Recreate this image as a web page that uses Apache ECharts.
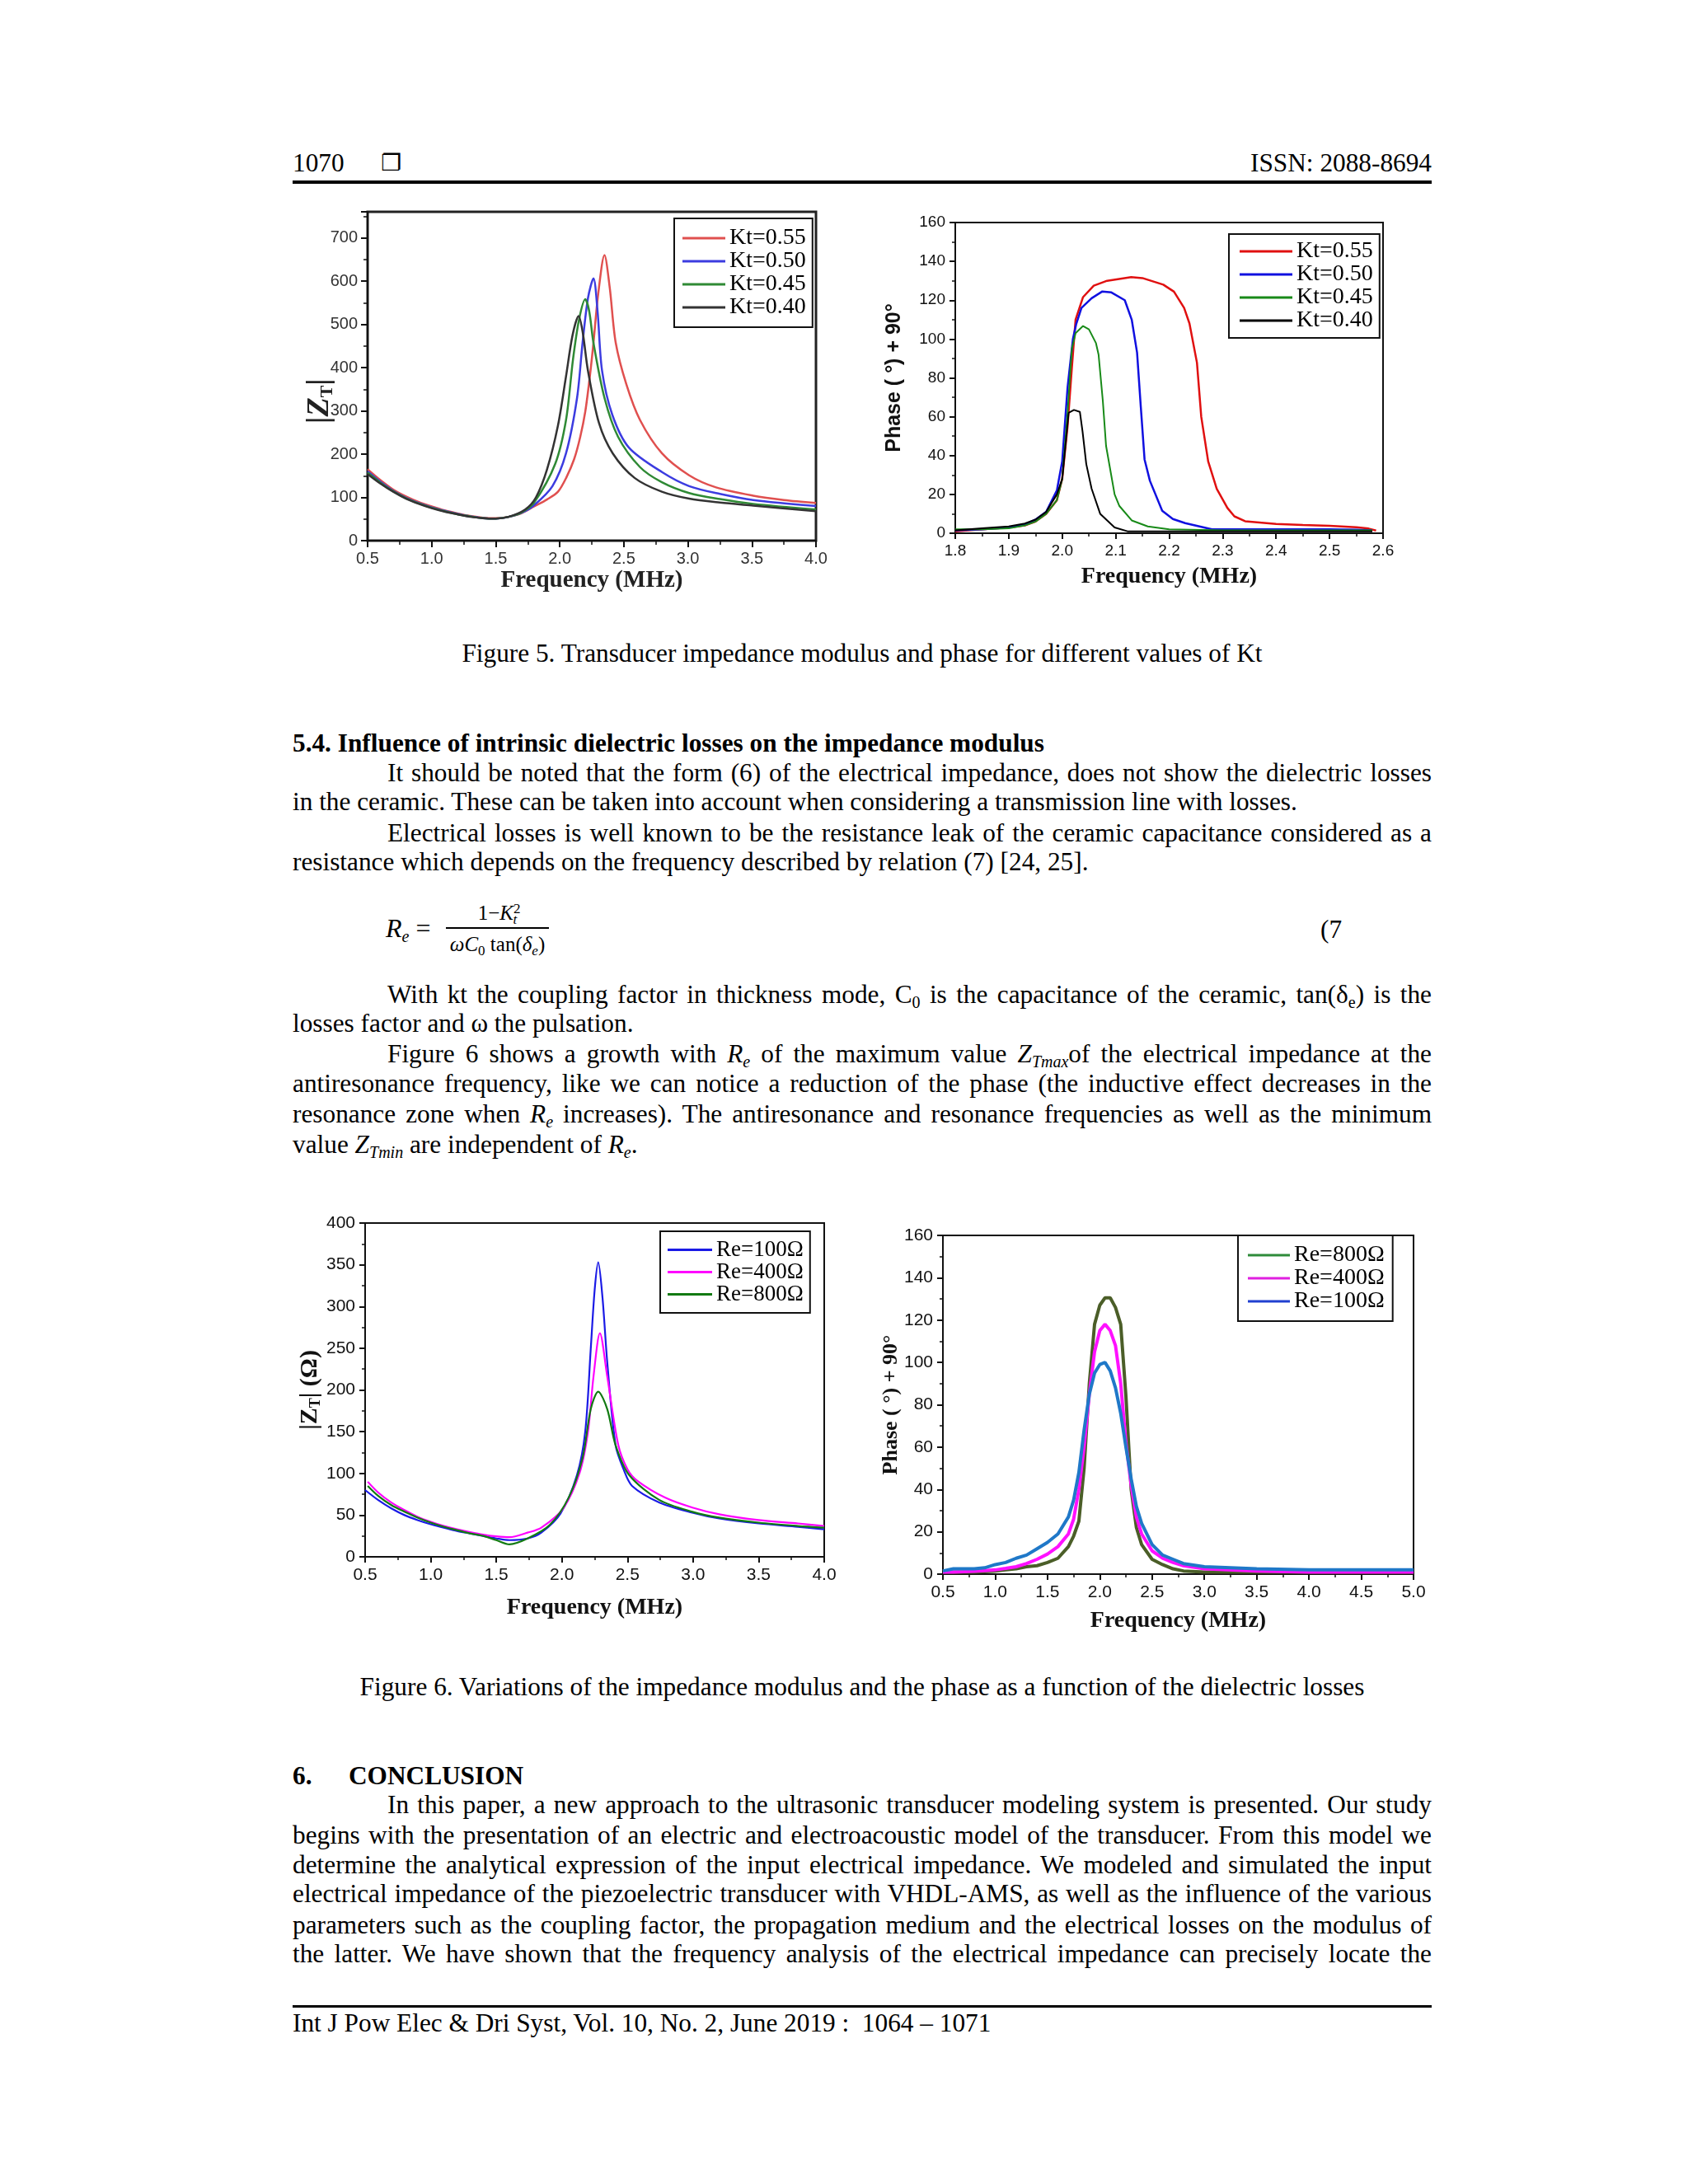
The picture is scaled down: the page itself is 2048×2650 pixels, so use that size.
<!DOCTYPE html>
<html><head><meta charset="utf-8">
<script src="https://cdn.jsdelivr.net/npm/echarts@6/dist/echarts.min.js"></script>
<style>
body{margin:0;background:#fff;width:2048px;height:2650px;position:relative;font-family:"Liberation Serif","Times New Roman",serif;color:#000;overflow:hidden;}
.t{position:absolute;font-size:31.3px;line-height:36px;white-space:nowrap;}
.j{position:absolute;left:355px;width:1382px;font-size:31.3px;line-height:36px;text-align:justify;text-align-last:justify;white-space:nowrap;}
.ind{left:470px;width:1267px;}
sub{font-size:20px;line-height:0;vertical-align:-0.3em;}
sup{font-size:20px;line-height:0;vertical-align:0.5em;}
.chart{position:absolute;}
.rule{position:absolute;left:355px;width:1382px;background:#000;}
</style></head><body>

<div class="t" style="left:355px;top:180px">1070</div>
<div class="t" style="left:462px;top:180px;font-family:'DejaVu Sans';font-size:28px;font-weight:bold">❐</div>
<div class="t" style="right:311px;top:180px">ISSN: 2088-8694</div>
<div class="rule" style="top:219px;height:4px"></div>

<div id="c1" class="chart" style="left:340px;top:240px;width:670px;height:500px"></div>
<div id="c2" class="chart" style="left:1040px;top:240px;width:690px;height:490px"></div>

<div class="t" style="left:355px;width:1382px;text-align:center;top:775px">Figure 5. Transducer impedance modulus and phase for different values of Kt</div>

<div class="t" style="left:355px;top:884px;font-weight:bold">5.4. Influence of intrinsic dielectric losses on the impedance modulus</div>
<div class="j ind" style="top:920px">It should be noted that the form (6) of the electrical impedance, does not show the dielectric losses</div>
<div class="t" style="left:355px;top:955px">in the ceramic. These can be taken into account when considering a transmission line with losses.</div>
<div class="j ind" style="top:993px">Electrical losses is well known to be the resistance leak of the ceramic capacitance considered as a</div>
<div class="t" style="left:355px;top:1028px">resistance which depends on the frequency described by relation (7) [24, 25].</div>

<div class="t" style="left:468px;top:1108px;font-size:32px"><i>R</i><sub style="font-style:italic">e</sub>&nbsp;=</div>
<div class="t" style="left:541px;width:125px;text-align:center;top:1093px;font-size:25px;line-height:30px">1−<i>K</i><sup style="font-size:17px">2</sup><sub style="font-size:17px;margin-left:-9px;font-style:italic">t</sub></div>
<div style="position:absolute;left:541px;top:1125px;width:125px;height:2px;background:#000"></div>
<div class="t" style="left:536px;width:135px;text-align:center;top:1131px;font-size:25px;line-height:30px"><i>ωC</i><sub style="font-size:17px">0</sub> tan(<i>δ</i><sub style="font-size:17px;font-style:italic">e</sub>)</div>
<div class="t" style="left:1602px;top:1110px">(7</div>

<div class="j ind" style="top:1189px">With kt the coupling factor in thickness mode, C<sub>0</sub> is the capacitance of the ceramic, tan(δ<sub>e</sub>) is the</div>
<div class="t" style="left:355px;top:1224px">losses factor and ω the pulsation.</div>
<div class="j ind" style="top:1261px">Figure 6 shows a growth with <i>R<sub>e</sub></i> of the maximum value <i>Z<sub>Tmax</sub></i>of the electrical impedance at the</div>
<div class="j" style="top:1297px">antiresonance frequency, like we can notice a reduction of the phase (the inductive effect decreases in the</div>
<div class="j" style="top:1334px">resonance zone when <i>R<sub>e</sub></i> increases). The antiresonance and resonance frequencies as well as the minimum</div>
<div class="t" style="left:355px;top:1371px">value <i>Z<sub>Tmin</sub></i> are independent of <i>R<sub>e</sub></i>.</div>

<div id="c3" class="chart" style="left:340px;top:1450px;width:690px;height:540px"></div>
<div id="c4" class="chart" style="left:1030px;top:1460px;width:710px;height:540px"></div>

<div class="t" style="left:355px;width:1382px;text-align:center;top:2029px">Figure 6. Variations of the impedance modulus and the phase as a function of the dielectric losses</div>

<div class="t" style="left:355px;top:2137px;font-weight:bold">6.</div>
<div class="t" style="left:423px;top:2137px;font-weight:bold">CONCLUSION</div>
<div class="j ind" style="top:2172px">In this paper, a new approach to the ultrasonic transducer modeling system is presented. Our study</div>
<div class="j" style="top:2209px">begins with the presentation of an electric and electroacoustic model of the transducer. From this model we</div>
<div class="j" style="top:2245px">determine the analytical expression of the input electrical impedance. We modeled and simulated the input</div>
<div class="j" style="top:2280px">electrical impedance of the piezoelectric transducer with VHDL-AMS, as well as the influence of the various</div>
<div class="j" style="top:2318px">parameters such as the coupling factor, the propagation medium and the electrical losses on the modulus of</div>
<div class="j" style="top:2353px">the latter. We have shown that the frequency analysis of the electrical impedance can precisely locate the</div>

<div class="rule" style="top:2433px;height:3px"></div>
<div class="t" style="left:355px;top:2437px">Int J Pow Elec &amp; Dri Syst, Vol. 10, No. 2, June 2019 :&nbsp; 1064 – 1071</div>

<script>
// ---------- Figure 5 (left): |Z_T| vs frequency for Kt ----------
const kt55_f = [0.5,0.6,0.7,0.8,0.9,1.0,1.1,1.2,1.3,1.4,1.5,1.6,1.7,1.8,1.9,1.986,2.05,2.113,2.16,2.199,2.235,2.263,2.3,2.349,2.39,2.437,2.52,2.626,2.797,3.01,3.22,3.51,3.75,4.0];
const kt55_z = [165,140,118,102,89,79,70,63,57,53,52,55,63,79,95,113,145,189,240,298,380,457,570,660,585,457,361,279,202,151,123,104,94,87];
const kt50_f = [0.5,0.6,0.7,0.8,0.9,1.0,1.1,1.2,1.3,1.4,1.5,1.6,1.7,1.8,1.943,2.049,2.135,2.178,2.22,2.263,2.295,2.33,2.41,2.54,2.8,3.01,3.25,3.51,4.0];
const kt50_z = [160,136,115,99,87,77,69,62,56,52,51,55,64,82,126,202,330,457,560,606,530,393,291,215,158,126,108,94,80];
const kt45_f = [0.5,0.6,0.7,0.8,0.9,1.0,1.1,1.2,1.3,1.4,1.5,1.6,1.7,1.8,1.964,2.049,2.103,2.15,2.199,2.23,2.263,2.349,2.455,2.626,2.797,3.01,3.25,3.51,4.0];
const kt45_z = [157,134,114,98,86,76,68,61,56,52,51,55,65,88,177,279,418,510,558,530,457,330,240,170,135,110,96,85,72];
const kt40_f = [0.5,0.6,0.7,0.8,0.9,1.0,1.1,1.2,1.3,1.4,1.5,1.6,1.73,1.814,1.9,1.986,2.049,2.1,2.147,2.18,2.22,2.306,2.413,2.584,2.797,3.01,3.25,3.51,4.0];
const kt40_z = [154,132,113,97,85,75,67,61,55,52,51,55,72,100,164,266,380,475,519,480,393,272,202,145,113,97,88,81,68];

// ---------- Figure 5 (right): phase vs frequency for Kt ----------
const ph55_f = [1.8,1.85,1.9,1.93,1.95,1.97,1.99,2.0,2.01,2.018,2.025,2.039,2.059,2.084,2.129,2.15,2.189,2.209,2.228,2.238,2.252,2.26,2.273,2.289,2.309,2.322,2.342,2.4,2.45,2.5,2.55,2.573,2.587];
const ph55_p = [1,2,3,4,6,10,17,28,55,85,110,121.6,127.5,130,131.9,131.4,128,124.4,116,108,87.8,60,37,22.9,13,8.7,6.2,4.8,4.2,3.8,3.1,2.4,1.4];
const ph50_f = [1.8,1.85,1.9,1.93,1.95,1.97,1.99,2.0,2.01,2.02,2.026,2.036,2.055,2.075,2.092,2.117,2.13,2.14,2.147,2.154,2.164,2.187,2.207,2.23,2.28,2.35,2.45,2.5,2.55,2.58];
const ph50_p = [1.5,2,3,4.5,7,11,22,37,75,100,107.5,116,121,124.5,124,120,110,93,65,38,27,11.6,7.3,5.2,2,2,2,2,1.8,1.5];
const ph45_f = [1.8,1.85,1.9,1.93,1.95,1.97,1.99,2.0,2.01,2.018,2.025,2.039,2.05,2.063,2.068,2.076,2.082,2.098,2.107,2.13,2.16,2.2,2.3,2.4,2.5,2.58];
const ph45_p = [2,2,2.5,4,6,10,17,28,62,95,103,106.7,105,98,92,68,45,20,14,6.6,3.5,2,1.5,1.5,1.5,1.5];
const ph40_f = [1.8,1.85,1.9,1.93,1.95,1.97,1.99,2.0,2.006,2.012,2.022,2.033,2.038,2.045,2.055,2.071,2.098,2.122,2.2,2.3,2.4,2.5,2.58];
const ph40_p = [1.5,2.5,3.5,5,7,11,20,28,45,62,63.5,62.5,52.5,35.6,22.9,10,3,1,1,1,1,1,1];

// ---------- Figure 6 (left): |Z_T| vs frequency for Re ----------
const re100_f = [0.5,0.6,0.7,0.8,0.9,1.0,1.1,1.2,1.3,1.4,1.5,1.6,1.738,1.843,1.99,2.115,2.178,2.22,2.25,2.277,2.31,2.346,2.409,2.47,2.535,2.744,2.995,3.2,3.5,3.8,4.0];
const re100_z = [80,68,58,50,44,39,35,31,28,25,22,20,22,29,52,98,150,249,320,353,310,233,134,105,85,65,53,46,40,36,33];
const re400_f = [0.52,0.6,0.7,0.8,0.9,1.0,1.1,1.2,1.3,1.4,1.5,1.6,1.738,1.843,2.01,2.136,2.199,2.241,2.29,2.346,2.43,2.5,2.576,2.786,2.995,3.2,3.5,3.8,4.0];
const re400_z = [90,77,65,56,48,42,37,33,29.5,26.5,24.5,23.5,29,35,58,101,150,216,268,216,134,105,91,71,59,51,44,40,37];
const re800_f = [0.52,0.6,0.7,0.8,0.9,1.0,1.1,1.2,1.3,1.4,1.5,1.6,1.738,1.906,2.052,2.157,2.22,2.277,2.346,2.409,2.513,2.744,2.995,3.2,3.5,3.8,4.0];
const re800_z = [85,73,62,54,47,41,36,32,28,25,20,15,22,38,71,118,177,198,177,134,98,68,54,47,41,37,35];

// ---------- Figure 6 (right): phase vs frequency for Re ----------
const phRe_f = [0.5,0.6,0.7,0.8,0.9,1.0,1.1,1.2,1.3,1.4,1.5,1.6,1.7,1.75,1.8,1.85,1.9,1.95,2.0,2.05,2.1,2.15,2.2,2.25,2.3,2.35,2.4,2.5,2.6,2.7,2.8,3.0,3.5,4.0,4.5,5.0];
const phRe800 = [1,1,1,1,1.2,1.5,2,2.5,3.5,4,5.5,7.5,13,18,25,50,90,118,127,130.5,130.5,126,118,84,40,22,14,7,4.5,2.5,1.5,1,1,1,1,1];
const phRe400 = [1,1,1.2,1.4,1.7,2,2.7,3.5,5,7,9.5,13,19,26,40,60,85,105,115,118,115,108,90,62,42,27,19,11,7.5,5.5,4,2.5,1.5,1,1,1];
const phRe100 = [1.5,2.5,2.5,2.5,3,4.5,5.5,7.5,9,12,15,19,27,35,48,68,85,95,99,100,96,88,76,60,45,32,24,14,9,7,5,3.5,2.5,2,2,2];

const SANS = "'Liberation Sans', Arial, sans-serif";
const NARROW = "'Liberation Sans Narrow', 'Liberation Sans', Arial, sans-serif";
const SERIF = "'Liberation Serif', 'Times New Roman', serif";

function pairs(f, v){ return f.map((x,i)=>[x, v[i]]); }

function axis(o){
  return {
    type:'value', min:o.min, max:o.max, interval:o.interval,
    name:o.name, nameLocation:'middle', nameGap:o.nameGap, nameRotate:o.nameRotate,
    nameMoveOverlap:false,
    nameTextStyle:o.nameStyle,
    axisLine:{show:true, onZero:false, lineStyle:{color:'#111', width:2}},
    axisTick:{show:true, inside:false, length:o.tickLen||8, lineStyle:{color:'#111', width:2}},
    minorTick:{show:true, splitNumber:o.minor||2, length:(o.tickLen||8)-3, lineStyle:{color:'#111', width:1.5}},
    splitLine:{show:false},
    axisLabel:{formatter:o.fmt, fontFamily:o.labFont||SANS, fontSize:o.labSize||20, color:o.labColor||'#111', margin:o.labMargin||12}
  };
}

function line(name, data, color, width, smooth){
  return {type:'line', name:name, data:data, symbol:'none', showSymbol:false, smooth:smooth||false,
          lineStyle:{color:color, width:width}, itemStyle:{color:color}};
}

function legend(o){
  return {show:true, orient:'vertical', left:o.left, top:o.top, padding:o.padding, icon:'rect',
          itemWidth:o.itemWidth, itemHeight:o.itemHeight||3, itemGap:0, borderColor:'#111', borderWidth:2,
          backgroundColor:'#fff', data:o.data, selectedMode:false,
          textStyle:{fontFamily:SERIF, fontSize:o.fontSize, color:'#000', lineHeight:o.lineHeight}};
}

function mk(id, opt){
  const c = echarts.init(document.getElementById(id));
  opt.animation = false;
  c.setOption(opt);
}

// Chart 1
mk('c1', {
  grid:{left:106, top:17, width:544, height:399, show:true, borderColor:'#222', borderWidth:3, backgroundColor:'transparent'},
  legend: legend({left:478, top:25, padding:[10,8,10,10], itemWidth:52, fontSize:28, lineHeight:24,
                  data:['Kt=0.55','Kt=0.50','Kt=0.45','Kt=0.40']}),
  xAxis: axis({min:0.5, max:4.0, interval:0.5, fmt:v=>v.toFixed(1), labFont:NARROW, labSize:20, labColor:'#333',
               name:'Frequency (MHz)', nameGap:34,
               nameStyle:{fontFamily:SERIF, fontWeight:'bold', fontSize:29, color:'#222'}}),
  yAxis: axis({min:0, max:760, interval:100, fmt:v=>(v%100===0?String(v):''), labFont:NARROW, labSize:20, labColor:'#333',
               name:'{a||Z}{b|T}{a||}', nameGap:38, nameRotate:90,
               nameStyle:{padding:[0,60,0,0],
                          rich:{a:{fontFamily:SERIF, fontWeight:'bold', fontStyle:'italic', fontSize:38, color:'#222'},
                                b:{fontFamily:SERIF, fontWeight:'bold', fontSize:22, color:'#222', padding:[18,0,0,0]}}}}),
  series:[
    line('Kt=0.55', pairs(kt55_f, kt55_z), '#e0504f', 2.5, 0.3),
    line('Kt=0.50', pairs(kt50_f, kt50_z), '#3c3ce0', 2.5, 0.3),
    line('Kt=0.45', pairs(kt45_f, kt45_z), '#2f8a35', 2.5, 0.3),
    line('Kt=0.40', pairs(kt40_f, kt40_z), '#333333', 2.5, 0.3)
  ]
});

// Chart 2
mk('c2', {
  grid:{left:119, top:30, width:519, height:377, show:true, borderColor:'#111', borderWidth:2, backgroundColor:'transparent'},
  legend: legend({left:451, top:44, padding:[7,8,7,13], itemWidth:64, fontSize:28, lineHeight:24,
                  data:['Kt=0.55','Kt=0.50','Kt=0.45','Kt=0.40']}),
  xAxis: axis({min:1.8, max:2.6, interval:0.1, fmt:v=>v.toFixed(1), labSize:19, tickLen:7,
               name:'Frequency (MHz)', nameGap:39,
               nameStyle:{fontFamily:SERIF, fontWeight:'bold', fontSize:28, color:'#111'}}),
  yAxis: axis({min:0, max:160, interval:20, fmt:v=>String(v), labSize:19, tickLen:7,
               name:'Phase ( °) + 90°', nameGap:61, nameRotate:90,
               nameStyle:{fontFamily:SANS, fontWeight:'bold', fontSize:25, color:'#111'}}),
  series:[
    line('Kt=0.55', pairs(ph55_f, ph55_p), '#e01010', 2.5),
    line('Kt=0.50', pairs(ph50_f, ph50_p), '#1010e0', 2.5),
    line('Kt=0.45', pairs(ph45_f, ph45_p), '#188a18', 2),
    line('Kt=0.40', pairs(ph40_f, ph40_p), '#000000', 2)
  ]
});

// Chart 3
mk('c3', {
  grid:{left:103, top:34, width:557, height:405, show:true, borderColor:'#111', borderWidth:2, backgroundColor:'transparent'},
  legend: legend({left:461, top:44, padding:[9,8,9,9], itemWidth:54, fontSize:27, lineHeight:24,
                  data:['Re=100Ω','Re=400Ω','Re=800Ω']}),
  xAxis: axis({min:0.5, max:4.0, interval:0.5, fmt:v=>v.toFixed(1), labSize:21, tickLen:7,
               name:'Frequency (MHz)', nameGap:48,
               nameStyle:{fontFamily:SERIF, fontWeight:'bold', fontSize:28, color:'#111'}}),
  yAxis: axis({min:0, max:400, interval:50, fmt:v=>String(v), labSize:21, tickLen:7,
               name:'{a||Z}{b|T}{a|| (Ω)}', nameGap:51, nameRotate:90,
               nameStyle:{rich:{a:{fontFamily:SERIF, fontWeight:'bold', fontSize:30, color:'#111'},
                                b:{fontFamily:SERIF, fontWeight:'bold', fontSize:18, color:'#111', padding:[13,0,0,0]}}}}),
  series:[
    line('Re=100Ω', pairs(re100_f, re100_z), '#1a1ae6', 2.2, 0.3),
    line('Re=400Ω', pairs(re400_f, re400_z), '#ff00ff', 2.2, 0.3),
    line('Re=800Ω', pairs(re800_f, re800_z), '#127a12', 2.2, 0.3)
  ]
});

// Chart 4
mk('c4', {
  grid:{left:114, top:39, width:571, height:411, show:true, borderColor:'#111', borderWidth:2, backgroundColor:'transparent'},
  legend: legend({left:472, top:39, padding:[10,10,10,12], itemWidth:51, itemHeight:3, fontSize:28, lineHeight:25,
                  data:[{name:'Re=800Ω', itemStyle:{color:'#2e8b3a'}},
                        {name:'Re=400Ω', itemStyle:{color:'#e020e0'}},
                        {name:'Re=100Ω', itemStyle:{color:'#2040d0'}}]}),
  xAxis: axis({min:0.5, max:5.0, interval:0.5, fmt:v=>v.toFixed(1), labSize:21, tickLen:7,
               name:'Frequency (MHz)', nameGap:43,
               nameStyle:{fontFamily:SERIF, fontWeight:'bold', fontSize:28, color:'#111'}}),
  yAxis: axis({min:0, max:160, interval:20, fmt:v=>String(v), labSize:21, tickLen:7,
               name:'Phase ( °) + 90°', nameGap:50, nameRotate:90,
               nameStyle:{fontFamily:SERIF, fontWeight:'bold', fontSize:26, color:'#111'}}),
  series:[
    line('Re=800Ω', pairs(phRe_f, phRe800), '#4b5e28', 4),
    line('Re=400Ω', pairs(phRe_f, phRe400), '#ff10ff', 4),
    line('Re=100Ω', pairs(phRe_f, phRe100), '#1f78c8', 4)
  ]
});
</script>
</body></html>
